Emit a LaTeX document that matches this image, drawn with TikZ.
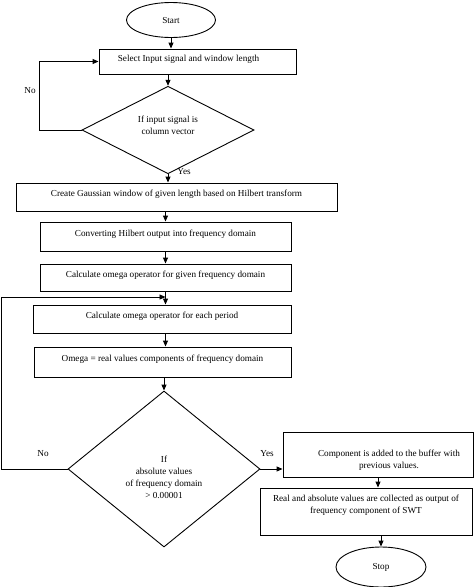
\documentclass[tikz,border=0pt]{standalone}
\usepackage{fontspec}
\setmainfont{Liberation Serif}
\usetikzlibrary{shapes.geometric,arrows.meta}
\begin{document}
\begin{tikzpicture}[x=1pt,y=-1pt,
  every node/.style={font=\fontsize{9.2}{12}\selectfont},
  line/.style={draw=black,line width=0.9pt},
  arr/.style={line,-{Triangle[length=6pt,width=5pt]}},
  boxa/.style={line,rectangle,inner sep=0pt,text height=6pt,text depth=7pt},
  boxm/.style={line,rectangle,inner sep=0pt,align=center},
  term/.style={line,ellipse,inner sep=0pt},
  dec/.style={line,diamond,inner sep=0pt,align=center}]
\useasboundingbox (0,0) rectangle (474,587);
\node[term,minimum width=89pt,minimum height=35pt] (start) at (171,20) {Start};
\node[boxa,minimum width=197pt,minimum height=25pt] (b1) at (197.5,61.5) {\hspace*{-18pt}Select Input signal and window length};
\node[dec,minimum width=172pt,minimum height=84pt] (d1) at (168,130) {If input signal is\\column vector\\[-3pt]};
\node[boxa,minimum width=321pt,minimum height=28pt] (b2) at (176.5,197) {Create Gaussian window of given length based on Hilbert transform};
\node[boxa,minimum width=251pt,minimum height=29pt] (b3) at (165.5,236.5) {Converting Hilbert output into frequency domain};
\node[boxa,minimum width=251pt,minimum height=27pt] (b4) at (165.5,277.5) {Calculate omega operator for given frequency domain};
\node[boxa,minimum width=258pt,minimum height=28pt] (b5) at (162,319) {Calculate omega operator for each period};
\node[boxa,minimum width=257pt,minimum height=30pt] (b6) at (162.5,362) {Omega = real values components of frequency domain};
\node[dec,minimum width=192pt,minimum height=156pt] (d2) at (164,469) {\\[12pt]If\\absolute values\\of frequency domain\\> 0.00001};
\node[boxm,minimum width=190pt,minimum height=45pt] (b7) at (378,454.5) {\\[6pt]\hspace*{22pt}Component is added to the buffer with\\\hspace*{22pt}previous values.};
\node[boxm,minimum width=212pt,minimum height=47pt] (b8) at (366,511.5) {Real and absolute values are collected as output of\\frequency component of SWT\\[2pt]};
\node[term,minimum width=90pt,minimum height=40pt] (stop) at (381,567) {Stop};
\coordinate (j) at (165.5,297);
\node (no1) at (30,91) {No};
\node (yes1) at (184,172) {Yes};
\node (no2) at (43,454) {No};
\node (yes2) at (267,454) {Yes};
\draw[arr] (start.south) -- (start.south |- b1.north);
\draw[arr] (d1.north |- b1.south) -- (d1.north);
\draw[arr] (d1.west) -- ++(-42,0) |- (b1.west);
\draw[arr] (d1.south) -- (d1.south |- b2.north);
\draw[arr] (b3.north |- b2.south) -- (b3.north);
\draw[arr] (b3.south) -- (b4.north);
\draw[arr] (b4.south) -- (b4.south |- b5.north);
\draw[arr] (d2.west) -- ++(-66,0) |- (j);
\draw[arr] (b4.south |- b5.south) -- (b4.south |- b6.north);
\draw[arr] (d2.north |- b6.south) -- (d2.north);
\draw[arr] (d2.east) -- (b7.west |- d2.east);
\draw[arr] (b7.south) -- (b7.south |- b8.north);
\draw[arr] (stop.north |- b8.south) -- (stop.north);
\end{tikzpicture}
\end{document}
